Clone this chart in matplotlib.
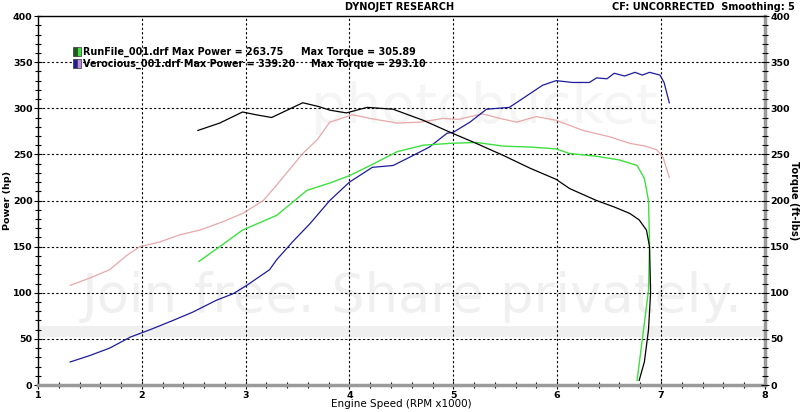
import numpy as np
import matplotlib
matplotlib.use("Agg")
from matplotlib import pyplot as plt
from matplotlib.patches import Rectangle

# RunFile_001 torque (black)
run_tq_rpm = [2.54, 2.75, 2.97, 3.10, 3.25, 3.40, 3.55, 3.70, 3.81, 3.97, 4.17, 4.42, 4.71, 4.97,
              5.22, 5.48, 5.74, 5.99, 6.12, 6.38, 6.55, 6.70, 6.79, 6.86, 6.89, 6.90, 6.88, 6.84, 6.79]
run_tq = [276, 284, 296, 293, 290, 298, 306, 302, 298, 295, 301, 299, 287, 274,
          262, 249, 235, 223, 213, 200, 193, 186, 179, 168, 150, 100, 60, 25, 5]

# RunFile_001 power (green)
run_hp_rpm = [2.55, 2.75, 2.97, 3.30, 3.59, 3.81, 4.00, 4.20, 4.46, 4.71, 4.97, 5.22, 5.48, 5.74,
              5.99, 6.12, 6.38, 6.60, 6.77, 6.84, 6.88, 6.89, 6.88, 6.84, 6.77]
run_hp = [134, 150, 168, 184, 211, 219, 227, 238, 253, 260, 262, 263, 259, 258,
          256, 251, 248, 244, 238, 224, 200, 154, 103, 67, 5]

# Verocious_001 torque (pink)
ver_tq_rpm = [1.31, 1.50, 1.69, 1.86, 1.98, 2.17, 2.37, 2.56, 2.78, 2.97, 3.17, 3.30, 3.55, 3.69,
              3.81, 4.03, 4.20, 4.46, 4.68, 4.90, 5.05, 5.28, 5.45, 5.61, 5.80, 5.99, 6.25, 6.51,
              6.70, 6.85, 6.96, 7.02, 7.08]
ver_tq = [108, 116, 125, 141, 150, 155, 163, 168, 177, 186, 200, 217, 251, 266,
          285, 293, 289, 284, 285, 289, 288, 294, 289, 285, 291, 287, 276, 269,
          262, 259, 255, 247, 225]

# Verocious_001 power (blue)
ver_hp_rpm = [1.31, 1.50, 1.69, 1.89, 2.08, 2.30, 2.49, 2.72, 2.88, 3.01, 3.23, 3.30, 3.45, 3.62,
              3.81, 4.00, 4.22, 4.42, 4.58, 4.77, 4.94, 5.00, 5.16, 5.32, 5.54, 5.74, 5.86, 5.99,
              6.15, 6.31, 6.38, 6.48, 6.55, 6.65, 6.75, 6.82, 6.89, 6.99, 7.03, 7.08]
ver_hp = [25, 32, 40, 52, 60, 70, 79, 92, 99, 108, 125, 136, 155, 175,
          200, 220, 236, 238, 247, 258, 273, 274, 285, 299, 301, 316, 325, 330,
          328, 328, 333, 332, 338, 335, 339, 336, 339, 336, 328, 306]

legend_names = ["RunFile_001.drf Max Power = 263.75", "Verocious_001.drf Max Power = 339.20"]
legend_torque = ["Max Torque = 305.89", "Max Torque = 293.10"]

fig = plt.figure(figsize=(8, 4.12), dpi=100)
ax = fig.add_axes([0.0475, 0.0655, 0.9085, 0.8955])
ax.set_xlim(1, 8)
ax.set_ylim(0, 400)

# faint watermark band and text
ax.axhspan(52, 64, color="#f0f0f0", zorder=0, lw=0)
ax.text(4.6, 95, "Join free. Share privately.", fontsize=38, color="#f0f0f0",
        ha="center", va="center", zorder=0)
ax.text(5.3, 300, "photobucket", fontsize=40, color="#f5f5f5",
        ha="center", va="center", zorder=0)

for v in range(2, 8):
    ax.axvline(v, color="black", lw=0.8, ls=(0, (2, 2)), zorder=1)
for v in range(50, 400, 50):
    ax.axhline(v, color="black", lw=0.8, ls=(0, (2, 2)), zorder=1)

ax.plot(ver_tq_rpm, ver_tq, color="#e8a8a8", lw=0.9, zorder=3)
ax.plot(ver_hp_rpm, ver_hp, color="#1c1c9c", lw=0.9, zorder=3)
ax.plot(run_hp_rpm, run_hp, color="#3ee03e", lw=1.0, zorder=3)
ax.plot(run_tq_rpm, run_tq, color="black", lw=0.9, zorder=4)

ax.set_xticks(range(1, 9))
ax.set_xticks(np.arange(1, 8.01, 0.2), minor=True)
ax.set_yticks(range(0, 401, 50))
ax.set_yticks(range(0, 401, 10), minor=True)
ax.tick_params(which="both", direction="inout", labelsize=6.8, width=0.8, pad=1)
ax.tick_params(which="major", length=6)
ax.tick_params(which="minor", length=5)
for lbl in ax.get_xticklabels() + ax.get_yticklabels():
    lbl.set_fontweight("bold")

for side in ["left", "top"]:
    ax.spines[side].set_linewidth(1.0)
for side in ["right", "bottom"]:
    ax.spines[side].set_linewidth(2.5)
    ax.spines[side].set_color("#9a9a9a")

ax2 = ax.twinx()
ax2.set_ylim(0, 400)
ax2.set_yticks(range(0, 401, 50))
ax2.set_yticks(range(0, 401, 10), minor=True)
ax2.tick_params(which="both", direction="inout", labelsize=6.8, width=0.8, pad=1)
ax2.tick_params(which="major", length=6)
ax2.tick_params(which="minor", length=5)
for lbl in ax2.get_yticklabels():
    lbl.set_fontweight("bold")
for side in ["left", "top", "right", "bottom"]:
    ax2.spines[side].set_visible(False)

ax.set_ylabel("Power (hp)", fontsize=6.8, fontweight="bold", va="center")
ax.yaxis.set_label_coords(-0.042, 0.5)
ax2.set_ylabel("Torque (ft-lbs)", fontsize=7, fontweight="bold", rotation=-90, va="center")
ax2.yaxis.set_label_coords(1.04, 0.5)
ax.set_xlabel("Engine Speed (RPM x1000)", fontsize=7.5)
ax.xaxis.set_label_coords(0.5, -0.038)

fig.text(0.5, 0.982, "DYNOJET RESEARCH", ha="center", va="center", fontsize=7, fontweight="bold")
fig.text(0.994, 0.982, "CF: UNCORRECTED  Smoothing: 5", ha="right", va="center",
         fontsize=7, fontweight="bold")

# legend
icon_cols = [("#1a5a1a", "#3ee03e"), ("#1c1c9c", "#c08ad8")]
for i in range(2):
    yy = 0.902 - i * 0.031
    ax.add_patch(Rectangle((0.0485, yy - 0.011), 0.005, 0.024, transform=ax.transAxes,
                           facecolor=icon_cols[i][0], edgecolor="#333333", lw=0.5, zorder=5))
    ax.add_patch(Rectangle((0.0535, yy - 0.011), 0.005, 0.024, transform=ax.transAxes,
                           facecolor=icon_cols[i][1], edgecolor="#333333", lw=0.5, zorder=5))
    ax.text(0.062, yy, legend_names[i], transform=ax.transAxes, fontsize=6.9,
            fontweight="bold", va="center", zorder=5)
    ax.text(0.362 + i * 0.014, yy, legend_torque[i], transform=ax.transAxes, fontsize=6.9,
            fontweight="bold", va="center", zorder=5)

fig.savefig("out.png", dpi=100)
